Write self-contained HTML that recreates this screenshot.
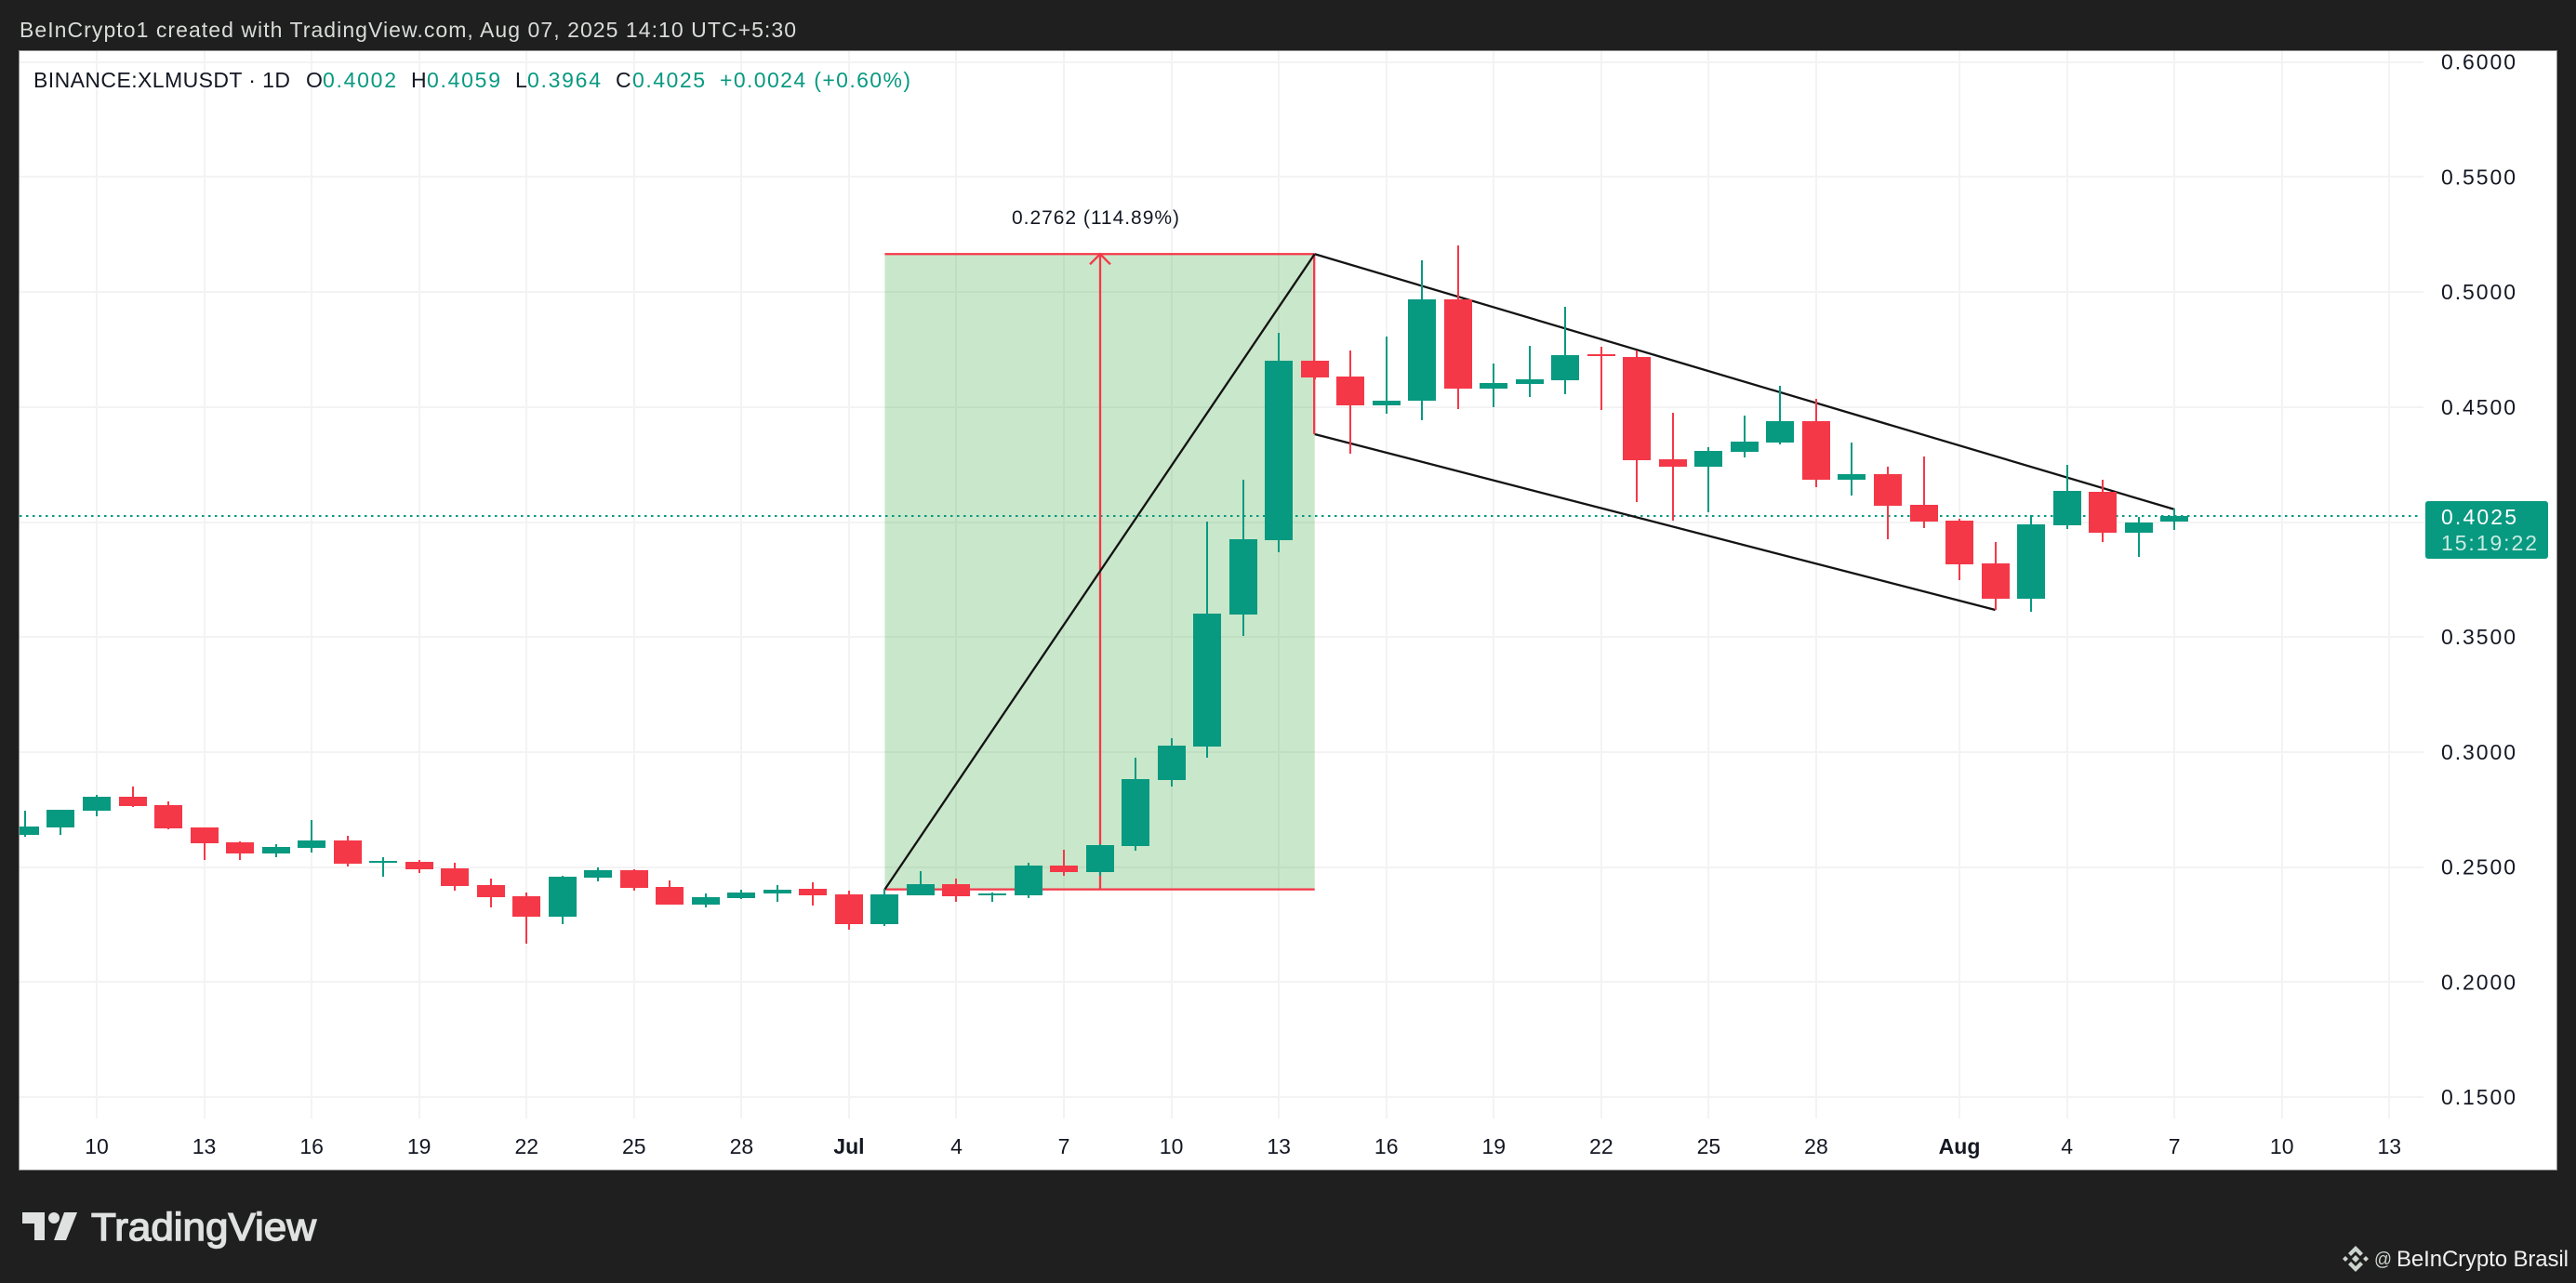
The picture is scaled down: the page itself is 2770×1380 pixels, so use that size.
<!DOCTYPE html>
<html lang="en">
<head>
<meta charset="utf-8">
<title>XLMUSDT 1D chart</title>
<style>
  html, body { margin: 0; padding: 0; background: #1f1f1f; }
  svg { display: block; font-family: "Liberation Sans", sans-serif; }
</style>
</head>
<body>
<svg id="chart" xmlns="http://www.w3.org/2000/svg" width="2770" height="1380" viewBox="0 0 2770 1380">
  <defs>
    <clipPath id="pane-clip"><rect x="21" y="54" width="2586" height="1149"/></clipPath>
  </defs>
  <rect x="0" y="0" width="2770" height="1380" fill="#1f1f1f"/>
  <text x="21" y="40" font-size="23" fill="#d9ddd9" textLength="835" lengthAdjust="spacing">BeInCrypto1 created with TradingView.com, Aug 07, 2025 14:10 UTC+5:30</text>
  <rect x="20.5" y="54.5" width="2729" height="1204" fill="#ffffff" stroke="#8a8a8a" stroke-width="1"/>
  <g id="grid"></g>
  <g id="drawings-under"></g>
  <g id="candles" clip-path="url(#pane-clip)"></g>
  <g id="x-axis"></g>
  <g id="y-axis"></g>

  <g font-size="23">
    <text x="36" y="94" fill="#131722" textLength="276" lengthAdjust="spacing">BINANCE:XLMUSDT · 1D</text>
    <text x="329" y="94" fill="#131722">O</text>
    <text x="347" y="94" fill="#089981" textLength="79" lengthAdjust="spacing">0.4002</text>
    <text x="442" y="94" fill="#131722">H</text>
    <text x="459" y="94" fill="#089981" textLength="79" lengthAdjust="spacing">0.4059</text>
    <text x="554" y="94" fill="#131722">L</text>
    <text x="567" y="94" fill="#089981" textLength="79" lengthAdjust="spacing">0.3964</text>
    <text x="662" y="94" fill="#131722">C</text>
    <text x="680" y="94" fill="#089981" textLength="78" lengthAdjust="spacing">0.4025</text>
    <text x="774" y="94" fill="#089981" textLength="205" lengthAdjust="spacing">+0.0024 (+0.60%)</text>
  </g>

  <text x="1088" y="241" font-size="21" fill="#131722" textLength="180" lengthAdjust="spacing">0.2762 (114.89%)</text>

  <rect x="2608" y="539" width="132" height="62" rx="3" fill="#089981"/>
  <text x="2625" y="564" font-size="23" fill="#ffffff" textLength="81" lengthAdjust="spacing">0.4025</text>
  <text x="2625" y="592" font-size="23" fill="#c9ebe1" textLength="103" lengthAdjust="spacing">15:19:22</text>

  <g>
    <g fill="#dfe2e0">
      <polygon points="24,1304 48,1304 48,1334 37,1334 37,1316 24,1316"/>
      <circle cx="58" cy="1310" r="6"/>
      <polygon points="69,1304 83,1304 71,1334 58,1334"/>
    </g>
    <text x="98" y="1334" font-size="42" fill="#dfe2e0" stroke="#dfe2e0" stroke-width="1.4" textLength="242" lengthAdjust="spacingAndGlyphs">TradingView</text>
  </g>

  <g fill="#ccd4ce">
    <polygon points="2533,1350 2537,1354 2533,1358 2529,1354"/>
    <polygon points="2522,1351 2525,1354 2522,1357 2519,1354"/>
    <polygon points="2544,1351 2547,1354 2544,1357 2541,1354"/>
    <polygon points="2533,1340 2541,1348 2538,1351 2533,1346 2528,1351 2525,1348"/>
    <polygon points="2533,1368 2541,1360 2538,1357 2533,1362 2528,1357 2525,1360"/>
  </g>
  <text x="2553" y="1361" font-size="20" fill="#cdd4ce" textLength="19" lengthAdjust="spacingAndGlyphs">@</text>
  <text x="2577" y="1362" font-size="24" fill="#f0f0f0" textLength="185" lengthAdjust="spacing">BeInCrypto Brasil</text>
</svg>

<script>
// ---- chart data (first candle is Jun 8, 2025, one candle per day) ----
const firstCandleDate = 'Jun 8 2025';
const opens = [
  0.2640,0.2672,0.2745,0.2806,0.2769,0.2672,0.2608,0.2559,0.2583,0.2616,0.2519,0.2523,0.2494,0.2422,0.2373,0.2284,0.2454,0.2486,0.2414,0.2337,0.2365,0.2385,0.2405,
  0.2381,0.2252,0.2377,0.2426,0.2377,0.2377,0.2507,0.2478,0.2591,0.2878,0.3024,0.3598,0.3921,0.4701,0.4633,0.4507,0.4528,0.4968,0.4580,0.4600,0.4616,0.4730,0.4718,0.4273,0.4241,0.4305,0.4346,0.4439,0.4184,0.4208,0.4075,
  0.4006,0.3820,0.3667,0.3986,0.4131,0.3954,0.4002
];
const highs = [
  0.2745,0.2749,0.2814,0.2850,0.2785,0.2672,0.2612,0.2600,0.2705,0.2636,0.2543,0.2531,0.2519,0.2450,0.2389,0.2462,0.2498,0.2490,0.2442,0.2385,0.2401,0.2422,0.2434,
  0.2397,0.2405,0.2482,0.2450,0.2389,0.2519,0.2575,0.2600,0.2975,0.3060,0.4002,0.4184,0.4823,0.4701,0.4746,0.4806,0.5138,0.5203,0.4689,0.4766,0.4936,0.4762,0.4746,0.4475,0.4325,0.4463,0.4592,0.4536,0.4346,0.4241,0.4285,
  0.4014,0.3913,0.4030,0.4249,0.4184,0.4022,0.4059
];
const lows = [
  0.2632,0.2640,0.2721,0.2761,0.2664,0.2531,0.2531,0.2543,0.2563,0.2502,0.2458,0.2474,0.2397,0.2325,0.2167,0.2252,0.2438,0.2397,0.2337,0.2325,0.2361,0.2349,0.2333,
  0.2228,0.2244,0.2377,0.2349,0.2349,0.2365,0.2462,0.2462,0.2571,0.2850,0.2975,0.3505,0.3869,0.4620,0.4297,0.4471,0.4443,0.4491,0.4499,0.4544,0.4556,0.4487,0.4087,0.4006,0.4042,0.4281,0.4338,0.4152,0.4115,0.3925,0.3974,
  0.3747,0.3618,0.3610,0.3970,0.3913,0.3848,0.3964
];
const closes = [
  0.2676,0.2749,0.2806,0.2765,0.2668,0.2604,0.2559,0.2587,0.2616,0.2515,0.2527,0.2490,0.2418,0.2369,0.2284,0.2458,0.2486,0.2410,0.2337,0.2369,0.2389,0.2401,0.2377,
  0.2252,0.2381,0.2426,0.2373,0.2385,0.2507,0.2478,0.2595,0.2882,0.3028,0.3602,0.3925,0.4701,0.4629,0.4507,0.4528,0.4968,0.4580,0.4604,0.4620,0.4726,0.4722,0.4269,0.4241,0.4309,0.4350,0.4439,0.4184,0.4208,0.4071,0.4002,
  0.3816,0.3667,0.3990,0.4135,0.3954,0.3998,0.4025
];
const xTickLabels = ['10','13','16','19','22','25','28','Jul','4','7','10','13','16','19','22','25','28','Aug','4','7','10','13'];
const xTickCandles = [2,5,8,11,14,17,20,23,26,29,32,35,38,41,44,47,50,54,57,60,63,66];
const yTickValues = [0.6,0.55,0.5,0.45,0.35,0.3,0.25,0.2,0.15];
const yGridValues = [0.6,0.55,0.5,0.45,0.4,0.35,0.3,0.25,0.2,0.15];
const lastPrice = [0.4025];
const rangeCandles = [24,36];
const rangeArrowCandle = [30];
const rangePrices = [0.2403,0.5165];
const channelUpperCandles = [36,60];
const channelUpperPrices = [0.5165,0.4055];
const channelLowerCandles = [36,55];
const channelLowerPrices = [0.4382,0.3618];

// ---- axis functions ----
const X_ORIGIN = 26.96, X_STEP = 38.52;
const Y_BASE = 1180, Y_SCALE = 2474;
function xScale(i) { return X_ORIGIN + i * X_STEP; }
function yScale(p) { return Y_BASE - (p - 0.15) * Y_SCALE; }

const NS = 'http://www.w3.org/2000/svg';
const GREEN = '#089981', RED = '#f43848', GRID = '#f3f3f3', INK = '#131313';
const LINE_W = 2.3;
function make(parent, tag, props) {
  const el = document.createElementNS(NS, tag);
  for (const k in props) el.setAttribute(k, props[k]);
  parent.appendChild(el);
  return el;
}

// ---- grid ----
const grid = document.getElementById('grid');
yGridValues.forEach(function (v) {
  const y = Math.round(yScale(v));
  const el = make(grid, 'line', { x1: 21, x2: 2606, y1: y, y2: y, stroke: GRID, 'stroke-width': 2 });
  
  
});
xTickCandles.forEach(function (c) {
  const x = Math.round(xScale(c));
  const el = make(grid, 'line', { x1: x, x2: x, y1: 55, y2: 1203, stroke: GRID, 'stroke-width': 2 });
  
  
});

// ---- drawings (below candles) ----
const dr = document.getElementById('drawings-under');
const rx0 = xScale(rangeCandles[0]), rx1 = xScale(rangeCandles[1]);
const ry0 = yScale(rangePrices[0]), ry1 = yScale(rangePrices[1]);

const rangeBox = make(dr, 'rect', { x: rx0, y: ry1, width: rx1 - rx0, height: ry0 - ry1, fill: 'rgba(76,175,80,0.3)' });



const dottedY = Math.round(yScale(lastPrice[0]));
const dotted = make(dr, 'line', { x1: 21, x2: 2604, y1: dottedY, y2: dottedY, stroke: GREEN, 'stroke-width': 2, 'stroke-dasharray': '2.5 4.5' });



const rangeTop = make(dr, 'line', { x1: rx0, x2: rx1, y1: ry1, y2: ry1, stroke: RED, 'stroke-width': LINE_W });



const rangeBottom = make(dr, 'line', { x1: rx0, x2: rx1, y1: ry0, y2: ry0, stroke: RED, 'stroke-width': LINE_W });



const ax = Math.round(xScale(rangeArrowCandle[0]));
const arrowLine = make(dr, 'line', { x1: ax, x2: ax, y1: ry0, y2: ry1, stroke: RED, 'stroke-width': LINE_W });



const arrowHead = make(dr, 'polyline', { points: (ax - 11) + ',' + (ry1 + 11) + ' ' + ax + ',' + ry1 + ' ' + (ax + 11) + ',' + (ry1 + 11), fill: 'none', stroke: RED, 'stroke-width': LINE_W });



const chanUpper = make(dr, 'line', { x1: xScale(channelUpperCandles[0]), x2: xScale(channelUpperCandles[1]), y1: yScale(channelUpperPrices[0]), y2: yScale(channelUpperPrices[1]), stroke: INK, 'stroke-width': LINE_W });



const chanLower = make(dr, 'line', { x1: xScale(channelLowerCandles[0]), x2: xScale(channelLowerCandles[1]), y1: yScale(channelLowerPrices[0]), y2: yScale(channelLowerPrices[1]), stroke: INK, 'stroke-width': LINE_W });



const chanEdge = make(dr, 'line', { x1: rx1 - 0.5, x2: rx1 - 0.5, y1: ry1, y2: yScale(channelLowerPrices[0]), stroke: RED, 'stroke-width': LINE_W });



const diagonal = make(dr, 'line', { x1: rx0, x2: rx1, y1: ry0, y2: ry1, stroke: INK, 'stroke-width': LINE_W });



// ---- candles (snapped to whole pixels for crisp edges) ----
const candleLayer = document.getElementById('candles');
opens.forEach(function (o, i) {
  const c = closes[i], up = c >= o, col = up ? GREEN : RED, x = Math.round(xScale(i));
  const yHigh = Math.round(yScale(highs[i])), yLow = Math.round(yScale(lows[i]));
  const wick = make(candleLayer, 'rect', { x: x - 1, y: yHigh, width: 2, height: yLow - yHigh, fill: col });
  
  
  const top = Math.round(yScale(Math.max(o, c))), bot = Math.round(yScale(Math.min(o, c)));
  const body = make(candleLayer, 'rect', { x: x - 15, y: top, width: 30, height: Math.max(bot - top, 2), fill: col });
  
  
});

// ---- axes ----
const xAxis = document.getElementById('x-axis');
xTickLabels.forEach(function (t, i) {
  const isMonth = t === 'Jul' || t === 'Aug';
  const el = make(xAxis, 'text', { x: xScale(xTickCandles[i]), y: 1241, 'text-anchor': 'middle', 'font-size': 23, 'font-weight': isMonth ? 700 : 400, fill: '#131722' });
  
  
  el.textContent = t;
});
const yAxis = document.getElementById('y-axis');
yTickValues.forEach(function (v) {
  const el = make(yAxis, 'text', { x: 2625, y: yScale(v) + 8, 'font-size': 23, fill: '#131722', textLength: 80, lengthAdjust: 'spacing' });
  
  
  el.textContent = v.toFixed(4);
});
</script>
</body>
</html>
